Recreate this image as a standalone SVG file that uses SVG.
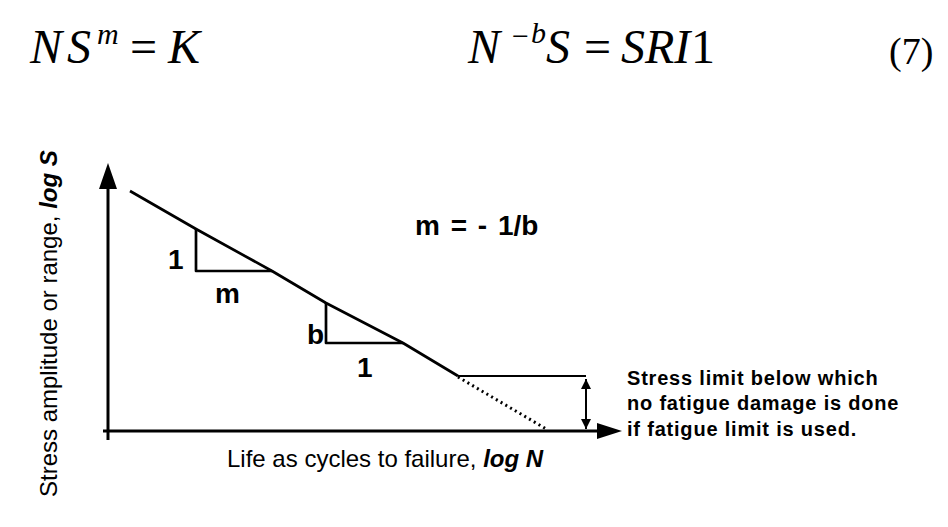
<svg xmlns="http://www.w3.org/2000/svg" width="948" height="527" viewBox="0 0 948 527">
<style>
.eq{font-family:"Liberation Serif","Times New Roman",serif;font-size:48px;font-style:italic;fill:#000}
.up{font-style:normal}
.sup{font-size:30px}
.lbl{font-family:"Liberation Sans",Arial,sans-serif;font-weight:bold;font-size:28px;fill:#000}
.ax{font-family:"Liberation Sans",Arial,sans-serif;font-size:24px;fill:#000}
.bi{font-weight:bold;font-style:italic}
.note{font-family:"Liberation Sans",Arial,sans-serif;font-weight:bold;font-size:20px;letter-spacing:0.8px;fill:#000}
.ln{stroke:#000;fill:none;stroke-linecap:butt;stroke-linejoin:round}
</style>
<defs>
<marker id="ah" viewBox="0 0 10 10" refX="10" refY="5" markerWidth="10" markerHeight="10" markerUnits="userSpaceOnUse" orient="auto-start-reverse">
<path d="M0,0 L10,5 L0,10 Z" fill="#000"/>
</marker>
</defs>
<rect width="948" height="527" fill="#fff"/>
<g id="equations">
<text class="eq" x="30" y="63">N</text>
<text class="eq" x="67" y="63">S</text>
<text class="eq sup" x="97" y="44">m</text>
<text class="eq up" x="130" y="63">=</text>
<text class="eq" x="168" y="63">K</text>
<text class="eq" x="468" y="63">N</text>
<text class="eq up sup" x="512" y="46">−</text>
<text class="eq sup" x="531" y="43">b</text>
<text class="eq" x="546" y="63">S</text>
<text class="eq up" x="584" y="63">=</text>
<text class="eq" x="621" y="63">SRI</text>
<text class="eq up" x="691" y="63">1</text>
<text class="eq up" x="889" y="64" style="font-size:38px">(7)</text>
</g>
<g id="axes">
<line class="ln" x1="108" y1="440" x2="108" y2="186" stroke-width="3"/>
<path d="M108,163 L117,189 L99,189 Z" fill="#000"/>
<line class="ln" x1="103" y1="431" x2="600" y2="431" stroke-width="3"/>
<path d="M622,431 L597,439 L597,423 Z" fill="#000"/>
</g>
<g id="connectors">
<polyline class="ln" points="130,191 196,229 272,271 326,303 403,343 458,376" stroke-width="2.7"/>
<line class="ln" x1="458" y1="377" x2="548" y2="430" stroke-width="3" stroke-dasharray="2,3.5"/>
<line class="ln" x1="458" y1="376" x2="586" y2="376" stroke-width="2.2"/>
<line class="ln" x1="586" y1="379" x2="586" y2="429" stroke-width="2" marker-start="url(#ah)" marker-end="url(#ah)"/>
<polyline class="ln" points="196,229 196,271 272,271" stroke-width="2.7"/>
<polyline class="ln" points="326,303 326,343 403,343" stroke-width="2.7"/>
</g>
<g id="labels">
<text class="lbl" x="168" y="269">1</text>
<text class="lbl" x="215" y="303">m</text>
<text class="lbl" x="307" y="344">b</text>
<text class="lbl" x="357" y="377">1</text>
<text class="lbl" x="415" y="235" style="word-spacing:3px">m = - 1/b</text>
<text class="ax" x="227" y="467">Life as cycles to failure, <tspan class="bi">log N</tspan></text>
<text class="ax" transform="translate(57,497) rotate(-90)">Stress amplitude or range, <tspan class="bi">log S</tspan></text>
<text class="note" x="627" y="385">Stress limit below which</text>
<text class="note" x="627" y="410">no fatigue damage is done</text>
<text class="note" x="627" y="436">if fatigue limit is used.</text>
</g>
</svg>
